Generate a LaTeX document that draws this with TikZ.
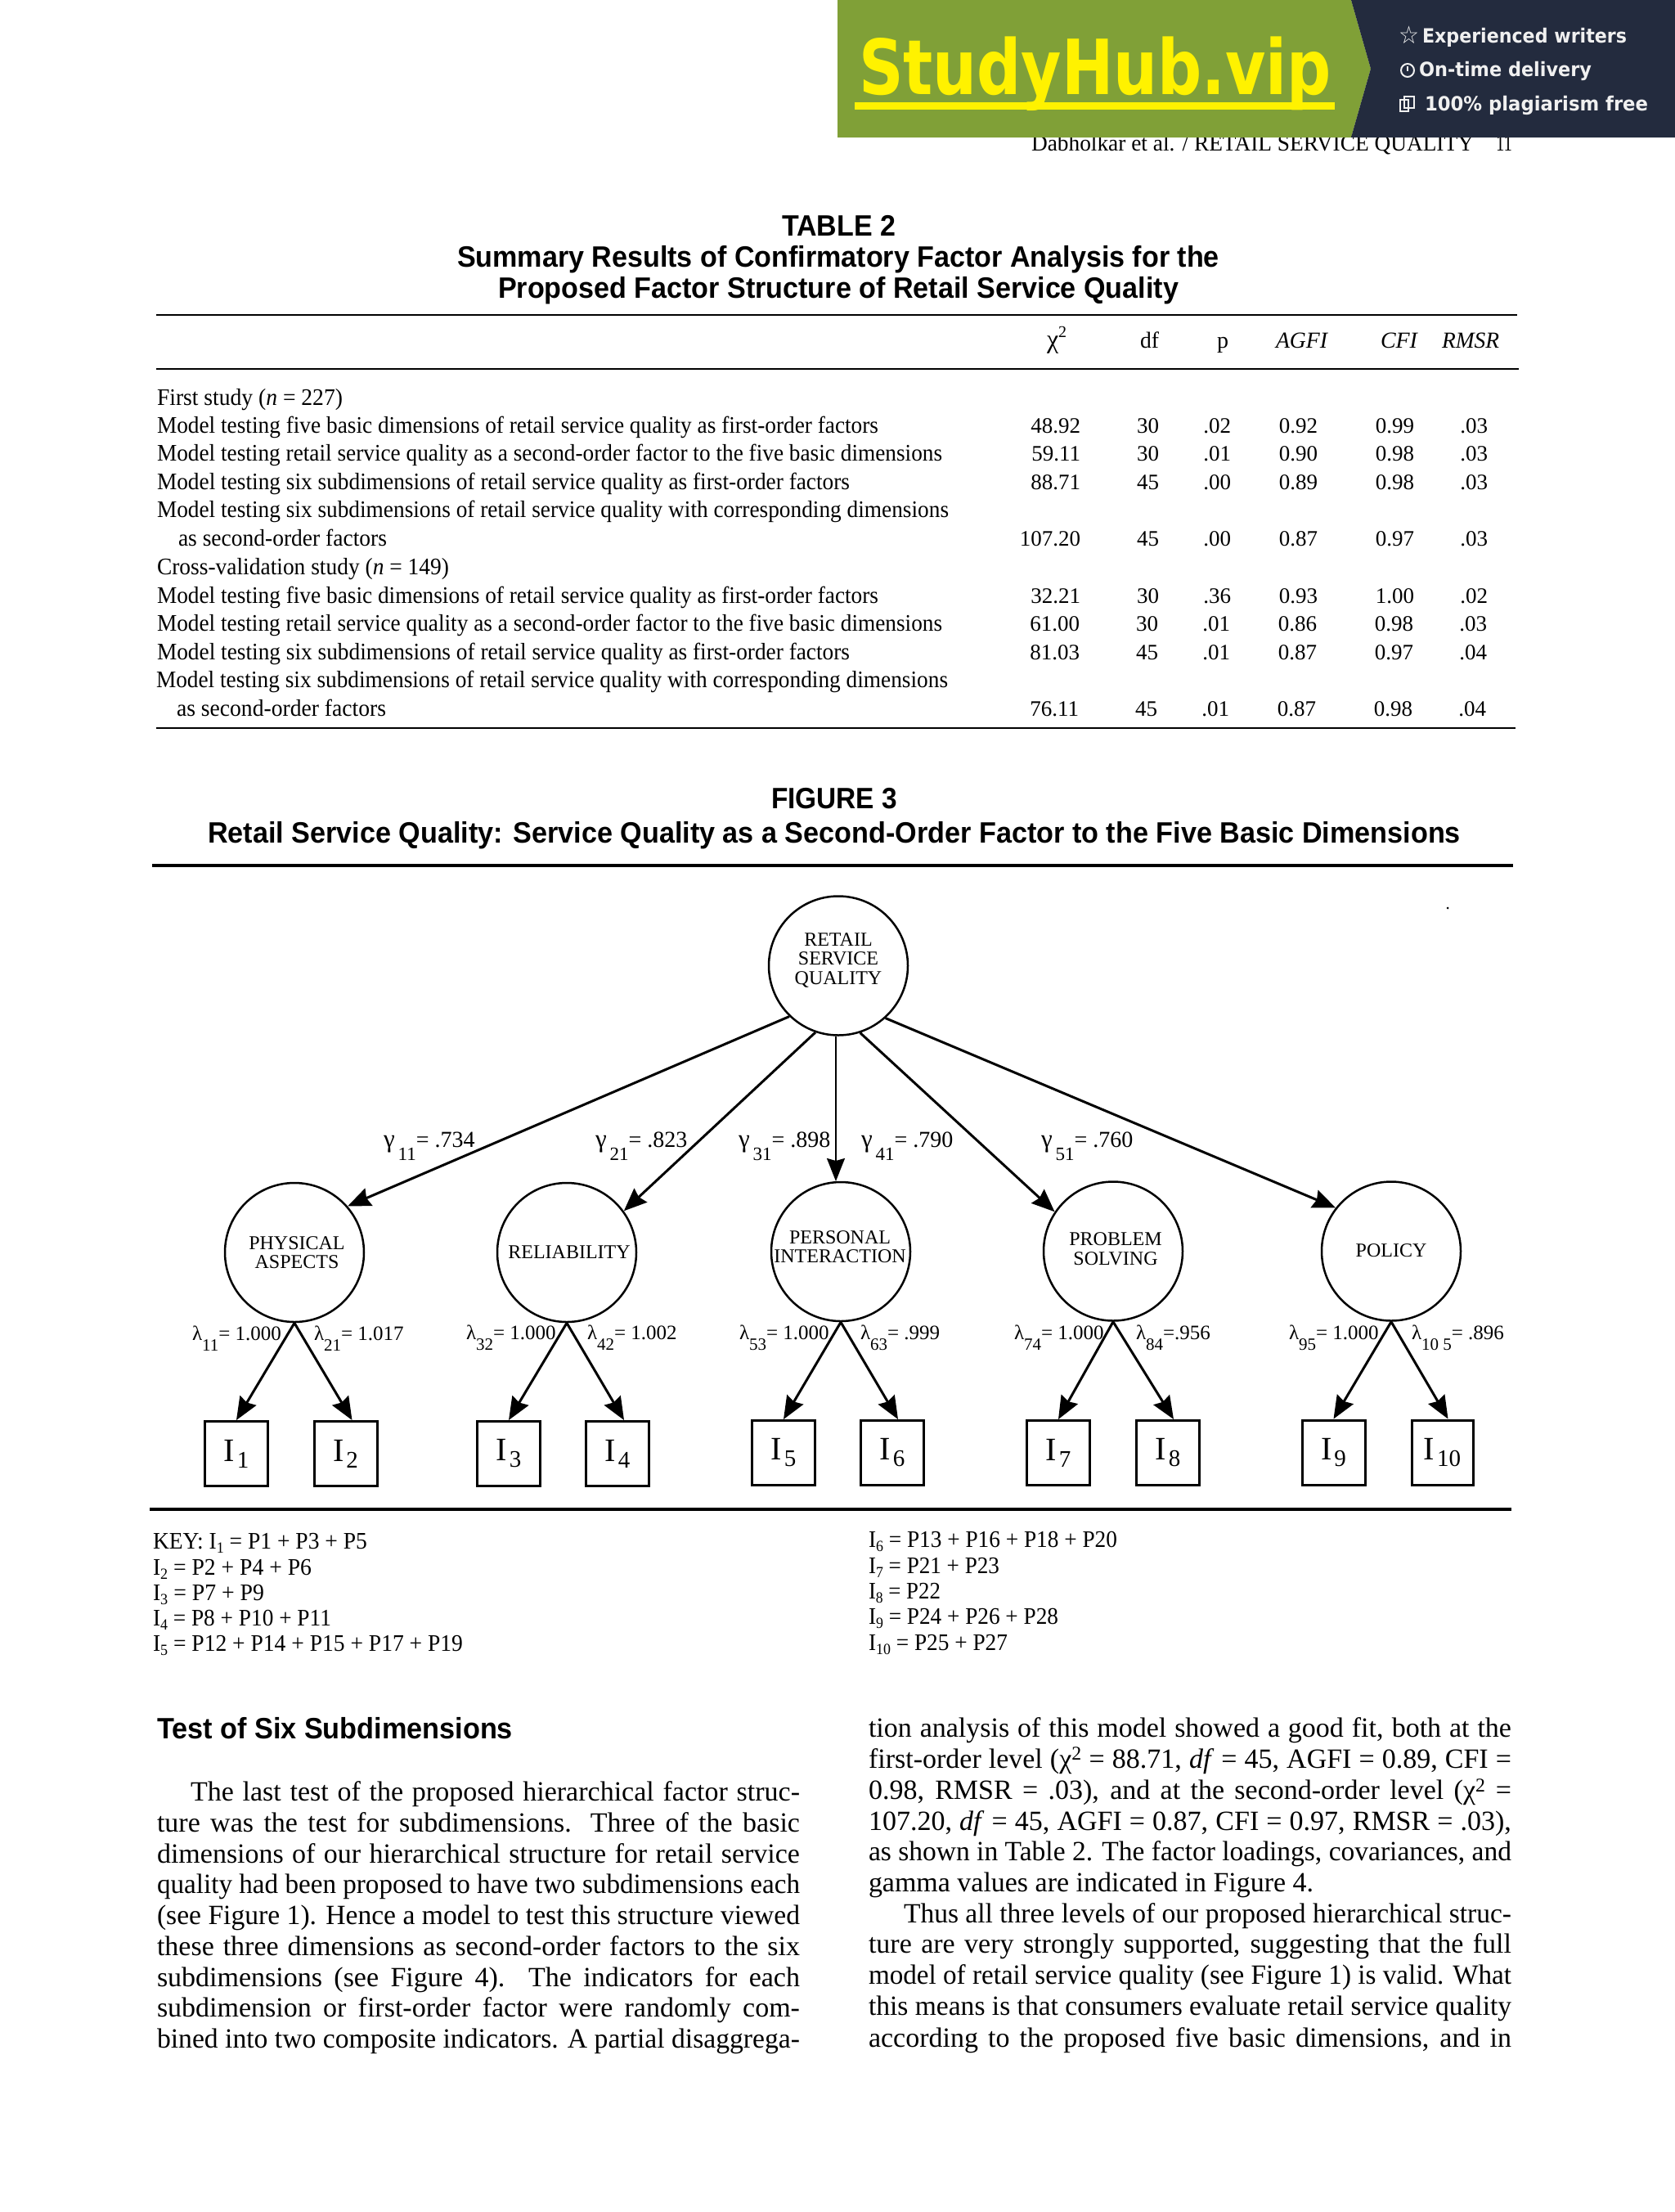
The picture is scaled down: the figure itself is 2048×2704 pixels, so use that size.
\documentclass[tikz,border=0pt]{standalone}
\usepackage{fontspec}
\usepackage{graphicx}
\usetikzlibrary{arrows.meta,calc,shapes.geometric}
\setmainfont{Liberation Serif}
\newfontfamily\hsans{Liberation Sans}
\newfontfamily\dvs{DejaVu Sans}
\definecolor{bgreen}{HTML}{80A037}
\definecolor{bdark}{HTML}{232B3E}
\definecolor{byellow}{HTML}{FFF200}
\definecolor{bwhite}{HTML}{F0F0F0}
\newcommand\fs[1]{\fontsize{#1}{#1}\selectfont}
\newcount\tlc
% text line: [style]{x}{baseline y}{width}{text}
\newcommand\TL[5][]{\global\advance\tlc by 1\relax
  \node[tline,#1] (t\the\tlc) at (#2,#3) {\setbox0\hbox{#5}\ifdim\wd0<#4pt\makebox[#4pt][s]{#5}\else\resizebox{#4pt}{\height}{#5}\fi};}
% numeric table cell
\newcommand\NC[3]{\global\advance\tlc by 1\relax
  \node[tline,tnum] (t\the\tlc) at (#1,#2) {#3};}
\newcommand\Row[8]{\NC{1321+#1}{#2}{#3}\NC{1417+#1}{#2}{#4}\NC{1505+#1}{#2}{#5}\NC{1611+#1}{#2}{#6}\NC{1729+#1}{#2}{#7}\NC{1819+#1}{#2}{#8}}
% path labels: x, y, subscript, rest
\newcommand\GL[4]{\global\advance\tlc by 1\relax
  \node[tline,font=\fs{28}] (t\the\tlc) at (#1,#2) {{\fs{31}γ}\kern4pt\lower16pt\hbox{\fs{23}#3}#4};}
\newcommand\LL[4]{\global\advance\tlc by 1\relax
  \node[tline,font=\fs{25}] (t\the\tlc) at (#1,#2) {λ\lower13pt\hbox{\fs{21}#3}#4};}
\newcommand\Is[1]{I\raisebox{-5pt}{\fs{19}#1}}
\newcommand\BI[1]{I\kern3pt\lower8pt\hbox{\fs{29}#1}}
\tikzset{
  tline/.style={anchor=base west,inner sep=0pt,outer sep=0pt},
  tnum/.style={anchor=base east,font=\fs{27}},
  body/.style={font=\fs{34}},
  tab/.style={font=\fs{29}},
  keyt/.style={font=\fs{29}},
  hd/.style={font=\hsans\bfseries\fs{36}},
  hdi/.style={font=\itshape\fs{28}},
  hdr/.style={font=\fs{28}},
  banw/.style={font=\dvs\bfseries\fs{24},text=bwhite},
  lat/.style={circle,draw,line width=2.5pt,minimum size=170pt,inner sep=0pt},
  lt/.style={align=center,inner sep=0pt,font=\fontsize{24}{23.5}\selectfont},
  obs/.style={rectangle,draw,line width=3pt,minimum width=77pt,minimum height=79pt,inner sep=0pt,font=\fs{40}},
  arr/.style={line width=3pt,-{Stealth[length=28pt,width=23pt,inset=3pt]}},
  arrthin/.style={line width=2pt,-{Stealth[length=28pt,width=22pt,inset=3pt]}},
  rulea/.style={line width=2.5pt},
  ruleb/.style={line width=4pt},
}
\begin{document}
\begin{tikzpicture}[x=1pt,y=-1pt]
\useasboundingbox (0,0) rectangle (2048,2704);
\fill[white] (0,0) rectangle (2048,2704);

% running head
\TL[hdr]{1261}{184}{541}{Dabholkar et al. / RETAIL SERVICE QUALITY}
\TL[hdr]{1829}{184}{20}{11}

% table title
\TL[hd]{956}{288}{139}{TABLE 2}
\TL[hd]{559}{326}{932}{Summary Results of Confirmatory Factor Analysis for the}
\TL[hd]{609}{364}{832}{Proposed Factor Structure of Retail Service Quality}

\coordinate (ra1) at (191,385); \coordinate (ra2) at (1855,385);
\coordinate (rb1) at (191,451); \coordinate (rb2) at (1857,451);
\coordinate (rc1) at (191,890); \coordinate (rc2) at (1853,890);
\draw[rulea] (ra1) -- (ra2);
\draw[rulea] (rb1) -- (rb2);
\draw[rulea] (rc1) -- (rc2);

% table head
\TL[hdr]{1280}{425}{25}{{\fs{32}χ}\raisebox{13pt}{\fs{20}2}}
\TL[hdr]{1394}{425}{23}{df}
\TL[hdr]{1488}{425}{15}{p}
\TL[hdi]{1560}{425}{63}{AGFI}
\TL[hdi]{1688}{425}{45}{CFI}
\TL[hdi]{1763}{425}{70}{RMSR}

% table body
\TL[tab]{192}{495}{227}{First study (\textit{n} = 227)}
\TL[tab]{192}{529}{882}{Model testing five basic dimensions of retail service quality as first-order factors}
\TL[tab]{192}{563}{960}{Model testing retail service quality as a second-order factor to the five basic dimensions}
\TL[tab]{192}{598}{847}{Model testing six subdimensions of retail service quality as first-order factors}
\TL[tab]{192}{632}{968}{Model testing six subdimensions of retail service quality with corresponding dimensions}
\TL[tab]{218}{667}{255}{as second-order factors}
\TL[tab]{192}{702}{357}{Cross-validation study (\textit{n} = 149)}
\TL[tab]{192}{737}{882}{Model testing five basic dimensions of retail service quality as first-order factors}
\TL[tab]{192}{771}{960}{Model testing retail service quality as a second-order factor to the five basic dimensions}
\TL[tab]{192}{806}{847}{Model testing six subdimensions of retail service quality as first-order factors}
\TL[tab]{191}{840}{968}{Model testing six subdimensions of retail service quality with corresponding dimensions}
\TL[tab]{216}{875}{256}{as second-order factors}

\Row{0}{529}{48.92}{30}{.02}{0.92}{0.99}{.03}
\Row{0}{563}{59.11}{30}{.01}{0.90}{0.98}{.03}
\Row{0}{598}{88.71}{45}{.00}{0.89}{0.98}{.03}
\Row{0}{667}{107.20}{45}{.00}{0.87}{0.97}{.03}
\Row{0}{737}{32.21}{30}{.36}{0.93}{1.00}{.02}
\Row{-1}{771}{61.00}{30}{.01}{0.86}{0.98}{.03}
\Row{-1}{806}{81.03}{45}{.01}{0.87}{0.97}{.04}
\Row{-2}{875}{76.11}{45}{.01}{0.87}{0.98}{.04}

% figure title
\TL[hd]{943}{988}{154}{FIGURE 3}
\TL[hd]{254}{1030}{1532}{Retail Service Quality: Service Quality as a Second-Order Factor to the Five Basic Dimensions}
\coordinate (rd1) at (186,1058); \coordinate (rd2) at (1850,1058);
\draw[ruleb] (rd1) -- (rd2);
\fill (1770,1110) circle (1.5pt);

% diagram nodes
\node[lat,label={[lt,yshift=6.5pt]center:RETAIL\\SERVICE\\QUALITY}] (retail) at (1025,1180.5) {};
\node[lat,label={[lt,xshift=3pt]center:PHYSICAL\\ASPECTS}] (phys) at (360,1531) {};
\node[lat,label={[lt,xshift=3pt]center:RELIABILITY}] (reli) at (693,1531) {};
\node[lat,label={[lt,xshift=-1pt,yshift=6pt]center:PERSONAL\\INTERACTION}] (pers) at (1028,1530) {};
\node[lat,label={[lt,xshift=3pt,yshift=3pt]center:PROBLEM\\SOLVING}] (prob) at (1361,1529.5) {};
\node[lat,label={[lt,yshift=1pt]center:POLICY}] (poli) at (1701,1529.5) {};

\node[obs] (i1) at (289,1777) {\BI{1}};
\node[obs] (i2) at (422.5,1777) {\BI{2}};
\node[obs] (i3) at (622,1777) {\BI{3}};
\node[obs] (i4) at (755,1777) {\BI{4}};
\node[obs] (i5) at (958,1776) {\BI{5}};
\node[obs] (i6) at (1091,1776) {\BI{6}};
\node[obs] (i7) at (1294,1776) {\BI{7}};
\node[obs] (i8) at (1428,1776) {\BI{8}};
\node[obs] (i9) at (1630.5,1775.5) {\BI{9}};
\node[obs,minimum width=75pt] (i10) at (1763.5,1775.5) {\BI{10}};

% connectors
\draw[arr] (retail.226) -- (phys.41);
\draw[arr] (retail.251) -- (reli.36);
\draw[arrthin] (pers.94 |- retail.south) -- (pers.94);
\draw[arr] (retail.288) -- (prob.146);
\draw[arr] (retail.312) -- (poli.142);
\draw[arr] (phys.south) -- (i1.north);
\draw[arr] (phys.south) -- ([xshift=8pt]i2.north);
\draw[arr] (reli.south) -- (i3.north);
\draw[arr] (reli.south) -- ([xshift=8pt]i4.north);
\draw[arr] (pers.south) -- (i5.north);
\draw[arr] (pers.south) -- ([xshift=7pt]i6.north);
\draw[arr] (prob.south) -- (i7.north);
\draw[arr] (prob.south) -- ([xshift=7pt]i8.north);
\draw[arr] (poli.south) -- (i9.north);
\draw[arr] (poli.south) -- ([xshift=7pt]i10.north);

% path labels
\GL{469}{1402}{11}{= .734}
\GL{728}{1402}{21}{= .823}
\GL{903}{1402}{31}{= .898}
\GL{1053}{1402}{41}{= .790}
\GL{1273}{1402}{51}{= .760}
\LL{235}{1638}{11}{= 1.000}
\LL{384}{1638}{21}{= 1.017}
\LL{570}{1637}{32}{= 1.000}
\LL{718}{1637}{42}{= 1.002}
\LL{904}{1637}{53}{= 1.000}
\LL{1052}{1637}{63}{= .999}
\LL{1240}{1637}{74}{= 1.000}
\LL{1389}{1637}{84}{=.956}
\LL{1576}{1637}{95}{= 1.000}
\LL{1726}{1637}{10 5}{= .896}

\coordinate (re1) at (183,1845); \coordinate (re2) at (1848,1845);
\draw[ruleb] (re1) -- (re2);

% key
\TL[keyt]{187}{1893}{262}{KEY: \Is{1} = P1 + P3 + P5}
\TL[keyt]{187}{1925}{194}{\Is{2} = P2 + P4 + P6}
\TL[keyt]{187}{1956}{136}{\Is{3} = P7 + P9}
\TL[keyt]{187}{1987}{218}{\Is{4} = P8 + P10 + P11}
\TL[keyt]{187}{2018}{379}{\Is{5} = P12 + P14 + P15 + P17 + P19}
\TL[keyt]{1062}{1891}{304}{\Is{6} = P13 + P16 + P18 + P20}
\TL[keyt]{1062}{1923}{160}{\Is{7} = P21 + P23}
\TL[keyt]{1062}{1954}{88}{\Is{8} = P22}
\TL[keyt]{1062}{1985}{232}{\Is{9} = P24 + P26 + P28}
\TL[keyt]{1062}{2017}{170}{\Is{10} = P25 + P27}

% left column
\TL[hd]{192}{2125}{435}{Test of Six Subdimensions}
\TL[body]{233}{2201}{745}{The last test of the proposed hierarchical factor struc-}
\TL[body]{192}{2239}{786}{ture was the test for subdimensions. Three of the basic}
\TL[body]{192}{2277}{786}{dimensions of our hierarchical structure for retail service}
\TL[body]{192}{2314}{786}{quality had been proposed to have two subdimensions each}
\TL[body]{192}{2352}{786}{(see Figure 1). Hence a model to test this structure viewed}
\TL[body]{192}{2390}{786}{these three dimensions as second-order factors to the six}
\TL[body]{192}{2428}{786}{subdimensions (see Figure 4). The indicators for each}
\TL[body]{192}{2465}{786}{subdimension or first-order factor were randomly com-}
\TL[body]{192}{2503}{786}{bined into two composite indicators. A partial disaggrega-}

% right column
\TL[body]{1062}{2123}{786}{tion analysis of this model showed a good fit, both at the}
\TL[body]{1062}{2161}{786}{first-order level (χ\textsuperscript{2} = 88.71, \textit{df} = 45, AGFI = 0.89, CFI =}
\TL[body]{1062}{2199}{786}{0.98, RMSR = .03), and at the second-order level (χ\textsuperscript{2} =}
\TL[body]{1062}{2237}{786}{107.20, \textit{df} = 45, AGFI = 0.87, CFI = 0.97, RMSR = .03),}
\TL[body]{1062}{2274}{786}{as shown in Table 2. The factor loadings, covariances, and}
\TL[body]{1062}{2312}{544}{gamma values are indicated in Figure 4.}
\TL[body]{1105}{2350}{743}{Thus all three levels of our proposed hierarchical struc-}
\TL[body]{1062}{2387}{786}{ture are very strongly supported, suggesting that the full}
\TL[body]{1062}{2425}{786}{model of retail service quality (see Figure 1) is valid. What}
\TL[body]{1062}{2463}{786}{this means is that consumers evaluate retail service quality}
\TL[body]{1062}{2502}{786}{according to the proposed five basic dimensions, and in}

% banner
\fill[bgreen] (1024,0) -- (1652,0) -- (1676,84) -- (1652,168) -- (1024,168) -- cycle;
\fill[bdark] (1652,0) -- (2048,0) -- (2048,168) -- (1652,168) -- (1676,84) -- cycle;
\TL[font=\dvs\bfseries\fs{93},text=byellow]{1050}{115}{578}{StudyHub.vip}
\fill[byellow] (1045,125) rectangle (1632,134);
\TL[banw,font=\dvs\fs{30}]{1710}{53}{25}{☆}
\TL[banw]{1739}{52}{250}{Experienced writers}
\draw[bwhite,line width=2pt] (1721,86) circle (8pt);
\draw[bwhite,line width=1.5pt] (1721,81) -- (1721,87);
\TL[banw]{1735}{93}{211}{On-time delivery}
\draw[bwhite,line width=1.5pt] (1712,122) rectangle (1722,136);
\draw[bwhite,line width=1.5pt] (1717,118) rectangle (1729,132);
\TL[banw]{1742}{135}{273}{100\% plagiarism free}
\end{tikzpicture}
\end{document}
